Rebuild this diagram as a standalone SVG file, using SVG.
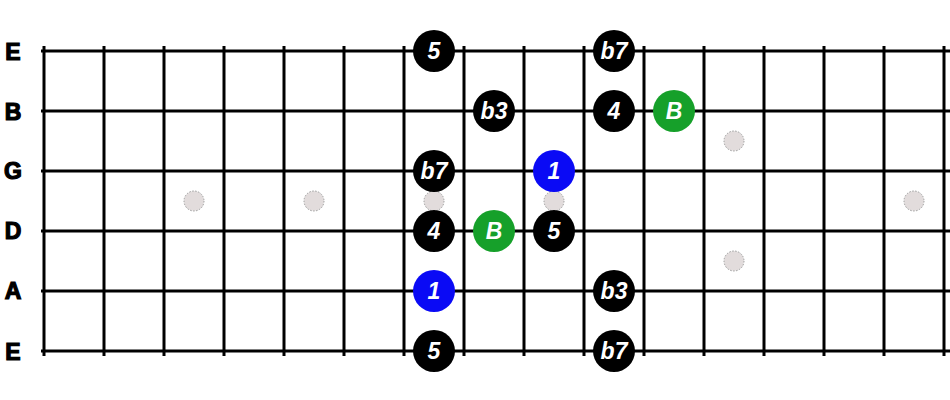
<svg xmlns="http://www.w3.org/2000/svg" width="950" height="400" viewBox="0 0 950 400">
<style>
.str{stroke:#000;stroke-width:3}
.fret{stroke:#000;stroke-width:3}
.lbl{font-family:"Liberation Sans",Arial,sans-serif;font-weight:bold;font-size:23px;fill:#000;stroke:#000;stroke-width:1.2;text-anchor:middle}
.inlay{fill:#e2dcdc;stroke:#999;stroke-width:1;stroke-dasharray:1.5 1.5}
.note circle{stroke:none}
.note text{font-family:"Liberation Sans",Arial,sans-serif;font-weight:bold;font-style:italic;font-size:23px;fill:#fff;text-anchor:middle}
.k circle{fill:#000}
.r circle{fill:#0a0af5}
.g circle{fill:#16a02a}
</style>
<rect width="950" height="400" fill="#fff"/>
<g id="strings">
<line class="str" x1="41" y1="51" x2="950" y2="51"/>
<line class="str" x1="41" y1="111" x2="950" y2="111"/>
<line class="str" x1="41" y1="171" x2="950" y2="171"/>
<line class="str" x1="41" y1="231" x2="950" y2="231"/>
<line class="str" x1="41" y1="291" x2="950" y2="291"/>
<line class="str" x1="41" y1="351" x2="950" y2="351"/>
</g>
<g id="frets">
<line class="fret" x1="44" y1="46" x2="44" y2="356"/>
<line class="fret" x1="104" y1="46" x2="104" y2="356"/>
<line class="fret" x1="164" y1="46" x2="164" y2="356"/>
<line class="fret" x1="224" y1="46" x2="224" y2="356"/>
<line class="fret" x1="284" y1="46" x2="284" y2="356"/>
<line class="fret" x1="344" y1="46" x2="344" y2="356"/>
<line class="fret" x1="404" y1="46" x2="404" y2="356"/>
<line class="fret" x1="464" y1="46" x2="464" y2="356"/>
<line class="fret" x1="524" y1="46" x2="524" y2="356"/>
<line class="fret" x1="584" y1="46" x2="584" y2="356"/>
<line class="fret" x1="644" y1="46" x2="644" y2="356"/>
<line class="fret" x1="704" y1="46" x2="704" y2="356"/>
<line class="fret" x1="764" y1="46" x2="764" y2="356"/>
<line class="fret" x1="824" y1="46" x2="824" y2="356"/>
<line class="fret" x1="884" y1="46" x2="884" y2="356"/>
<line class="fret" x1="944" y1="46" x2="944" y2="356"/>
</g>
<g id="labels">
<text class="lbl" x="13" y="60">E</text>
<text class="lbl" x="13" y="120">B</text>
<text class="lbl" x="13" y="179">G</text>
<text class="lbl" x="13" y="239">D</text>
<text class="lbl" x="13" y="299">A</text>
<text class="lbl" x="13" y="360">E</text>
</g>
<g id="inlays">
<circle class="inlay" cx="194" cy="201" r="10"/>
<circle class="inlay" cx="314" cy="201" r="10"/>
<circle class="inlay" cx="434" cy="201" r="10"/>
<circle class="inlay" cx="554" cy="201" r="10"/>
<circle class="inlay" cx="734" cy="141" r="10"/>
<circle class="inlay" cx="734" cy="261" r="10"/>
<circle class="inlay" cx="914" cy="201" r="10"/>
</g>
<g id="n1" class="note k"><circle cx="434" cy="51" r="21"/><text x="434" y="59">5</text></g>
<g id="n2" class="note k"><circle cx="614" cy="51" r="21"/><text x="614" y="59">b7</text></g>
<g id="n3" class="note k"><circle cx="494" cy="111" r="21"/><text x="494" y="119">b3</text></g>
<g id="n4" class="note k"><circle cx="614" cy="111" r="21"/><text x="614" y="119">4</text></g>
<g id="n5" class="note g"><circle cx="674" cy="111" r="21"/><text x="674" y="119">B</text></g>
<g id="n6" class="note k"><circle cx="434" cy="171" r="21"/><text x="434" y="179">b7</text></g>
<g id="n7" class="note r"><circle cx="554" cy="171" r="21"/><text x="554" y="179">1</text></g>
<g id="n8" class="note k"><circle cx="434" cy="231" r="21"/><text x="434" y="239">4</text></g>
<g id="n9" class="note g"><circle cx="494" cy="231" r="21"/><text x="494" y="239">B</text></g>
<g id="n10" class="note k"><circle cx="554" cy="231" r="21"/><text x="554" y="239">5</text></g>
<g id="n11" class="note r"><circle cx="434" cy="291" r="21"/><text x="434" y="299">1</text></g>
<g id="n12" class="note k"><circle cx="614" cy="291" r="21"/><text x="614" y="299">b3</text></g>
<g id="n13" class="note k"><circle cx="434" cy="351" r="21"/><text x="434" y="359">5</text></g>
<g id="n14" class="note k"><circle cx="614" cy="351" r="21"/><text x="614" y="359">b7</text></g>
</svg>
